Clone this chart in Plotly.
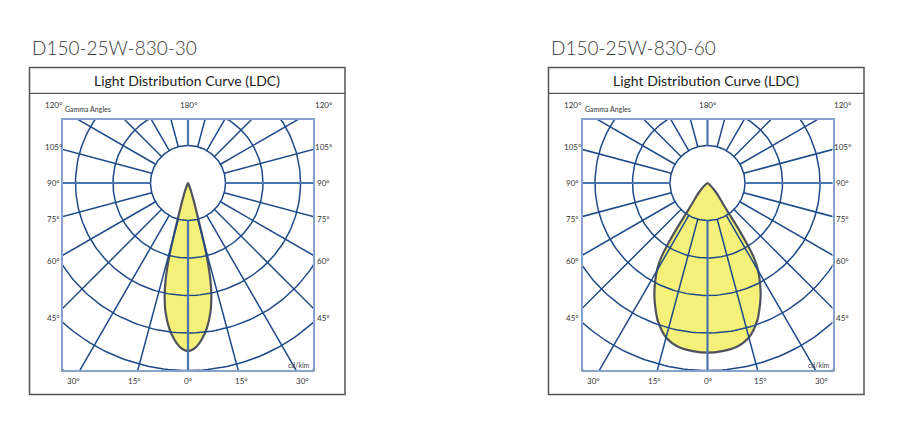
import numpy as np
import plotly.graph_objects as go

# ---------------- data ----------------
panel_titles = ["D150-25W-830-30", "D150-25W-830-60"]
chart_title = "Light Distribution Curve (LDC)"

# gamma angles (deg) and luminous intensity (cd/klm), C0-C180 plane (symmetric)
gamma_30 = [0, 2.5, 5, 7.5, 10, 11.5, 12.5, 13.5, 14.5, 15, 15.5, 16, 17, 18, 20, 22, 25]
cd_30 = [2240, 2200, 2095, 1945, 1735, 1560, 1415, 1225, 960, 775, 600, 480, 335, 240, 135, 65, 0]

gamma_60 = [0, 5, 10, 15, 20, 22.5, 25, 27.5, 30, 31, 32, 33, 34, 35, 36, 38, 40, 42, 45, 50, 55]
cd_60 = [905, 900, 888, 853, 778, 725, 670, 608, 540, 505, 460, 385, 295, 205, 155, 115, 90, 70, 45, 15, 0]

ring_step_30 = 500   # cd/klm per grid ring
ring_step_60 = 200

bottom_labels = [-30, -15, 0, 15, 30]
side_labels = [45, 60, 75, 90, 105, 120]
top_label = 180
unit_label = "cd/klm"
gamma_axis_label = "Gamma Angles"

# ---------------- styling / geometry ----------------
W, H = 900, 425
FONT = "Lato"
GRID = "#1d4a88"
AXISLINE = "#4a74b0"
BOXLINE = "#87a3cc"
FILL = "#f4f07a"
OUTLINE = "#4d525c"
PX_RING = 37.5           # pixels per ring
HALF_W, UP, DOWN = 125, 63, 187

panels = [
    dict(cx=188.0, cy=183.0, gamma=gamma_30, cd=cd_30, step=ring_step_30,
         frame=(29.5, 67.5, 345.0, 394.5), title=panel_titles[0]),
    dict(cx=707.5, cy=183.0, gamma=gamma_60, cd=cd_60, step=ring_step_60,
         frame=(548.5, 67.5, 864.0, 394.5), title=panel_titles[1]),
]

fig = go.Figure()
shapes, annotations = [], []


def pos(g_deg, r):
    g = np.radians(g_deg)
    return r * np.sin(g), -r * np.cos(g)


for i, p in enumerate(panels):
    xa = "x" if i == 0 else "x2"
    ya = "y" if i == 0 else "y2"
    step = p["step"]
    u = step / PX_RING  # data units per pixel
    cx, cy = p["cx"], p["cy"]

    def to_paper(dx_data, dy_data):
        return (cx + dx_data / u) / W, 1 - (cy - dy_data / u) / H

    # --- intensity curve ---
    g = np.array(p["gamma"], dtype=float)
    c = np.array(p["cd"], dtype=float)
    gg = np.concatenate([-g[::-1], g[1:]])
    cc = np.concatenate([c[::-1], c[1:]])
    cx_, cy_ = pos(gg, cc)
    fig.add_trace(go.Scatter(x=cx_, y=cy_, mode="lines", fill="toself",
                             fillcolor=FILL, line=dict(color=OUTLINE, width=2.2, shape="spline", smoothing=0.8),
                             xaxis=xa, yaxis=ya, hoverinfo="skip", showlegend=False))

    # --- grid: rings ---
    t = np.linspace(0, 2 * np.pi, 241)
    gx, gy = [], []
    for k in range(1, 7):
        r = k * step
        gx += list(r * np.cos(t)) + [None]
        gy += list(r * np.sin(t)) + [None]
    # --- grid: radial lines every 15 deg ---
    ax_x, ax_y = [], []
    for a in range(0, 360, 15):
        x0, y0 = pos(a, step)
        x1, y1 = pos(a, 8 * step)
        if a % 90 == 0:
            ax_x += [x0, x1, None]
            ax_y += [y0, y1, None]
        else:
            gx += [x0, x1, None]
            gy += [y0, y1, None]
    fig.add_trace(go.Scatter(x=gx, y=gy, mode="lines", line=dict(color=GRID, width=1.5),
                             xaxis=xa, yaxis=ya, hoverinfo="skip", showlegend=False))
    fig.add_trace(go.Scatter(x=ax_x, y=ax_y, mode="lines", line=dict(color=AXISLINE, width=2.2),
                             xaxis=xa, yaxis=ya, hoverinfo="skip", showlegend=False))

    # --- angle labels (placed along the radial directions, outside the box) ---
    lab_font = dict(family=FONT, size=8, color="#333333")
    items = []
    for b in bottom_labels:
        items.append((198 * u * np.tan(np.radians(b)), -198 * u, f"{abs(b)}°"))
    for s in side_labels:
        for sign in (-1, 1):
            items.append((sign * 135 * u, -135 * u / np.tan(np.radians(s)), f"{s}°"))
    items.append((0.0, 78 * u, f"{top_label}°"))
    for lx, ly, lt in items:
        px_, py_ = to_paper(lx, ly)
        annotations.append(dict(text=lt, xref="paper", yref="paper", x=px_, y=py_,
                                xanchor="center", yanchor="middle", showarrow=False, font=lab_font))

    # --- axes ---
    dom_x = [(cx - HALF_W) / W, (cx + HALF_W) / W]
    dom_y = [1 - (cy + DOWN) / H, 1 - (cy - UP) / H]
    axis_common = dict(showgrid=False, zeroline=False, showticklabels=False, ticks="",
                       showline=True, mirror=True, linecolor=BOXLINE, linewidth=2, fixedrange=True)
    key = "" if i == 0 else "2"
    fig.update_layout(**{
        f"xaxis{key}": dict(domain=dom_x, range=[-HALF_W * u, HALF_W * u], anchor=ya, **axis_common),
        f"yaxis{key}": dict(domain=dom_y, range=[-DOWN * u, UP * u], anchor=xa, **axis_common),
    })

    # --- frames & text ---
    x0, y0, x1, y1 = p["frame"]
    shapes.append(dict(type="rect", xref="paper", yref="paper", x0=x0 / W, x1=x1 / W,
                       y0=1 - y1 / H, y1=1 - y0 / H, line=dict(color="#555555", width=1.5)))
    shapes.append(dict(type="line", xref="paper", yref="paper", x0=x0 / W, x1=x1 / W,
                       y0=1 - 93.3 / H, y1=1 - 93.3 / H, line=dict(color="#555555", width=1.2)))
    annotations.append(dict(text=p["title"], xref="paper", yref="paper", x=(x0 + 0.5) / W, y=1 - 47.5 / H,
                            xanchor="left", yanchor="middle", showarrow=False,
                            font=dict(family=FONT, size=19, color="#3a3a3a", weight=300)))
    annotations.append(dict(text=chart_title, xref="paper", yref="paper", x=(cx - 1.5) / W, y=1 - 80 / H,
                            xanchor="center", yanchor="middle", showarrow=False,
                            font=dict(family=FONT, size=14, color="#222222")))
    annotations.append(dict(text=gamma_axis_label, xref="paper", yref="paper", x=(cx - HALF_W) / W,
                            y=1 - 109 / H, xanchor="left", yanchor="middle", showarrow=False,
                            font=dict(family=FONT, size=7, color="#333333")))
    annotations.append(dict(text=unit_label, xref="paper", yref="paper", x=(cx + HALF_W - 1) / W,
                            y=1 - 365 / H, xanchor="right", yanchor="middle", showarrow=False,
                            font=dict(family=FONT, size=7, color="#444444")))

fig.update_layout(width=W, height=H, margin=dict(l=0, r=0, t=0, b=0),
                  paper_bgcolor="white", plot_bgcolor="white",
                  shapes=shapes, annotations=annotations, showlegend=False)

fig.write_html("out.html", config={"displayModeBar": False, "staticPlot": True},
               post_script="document.body.style.margin='0px';document.body.style.overflow='hidden';")
